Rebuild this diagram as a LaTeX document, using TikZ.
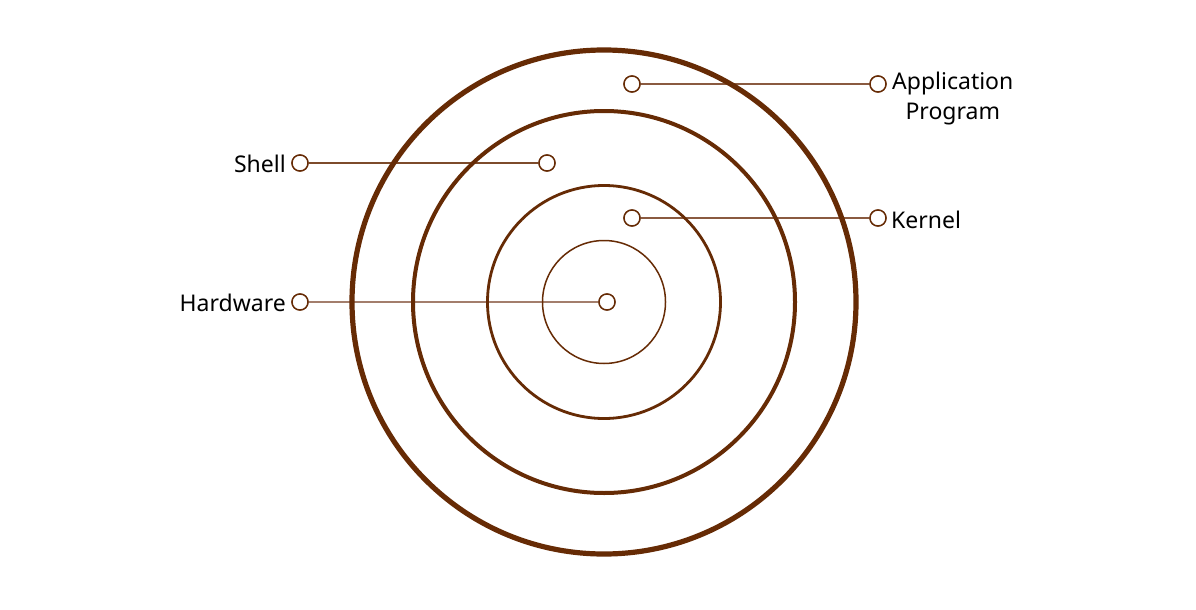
\documentclass[tikz,border=0pt]{standalone}
\usepackage{fontspec}
\setmainfont{Noto Sans}
\definecolor{ring}{HTML}{662B05}
\definecolor{leader}{HTML}{8A5A40}
\definecolor{leaderlight}{HTML}{A37E6C}
\begin{document}
\begin{tikzpicture}[x=1pt,y=-1pt,
  ring/.style={draw=ring},
  dot/.style={circle,draw=ring,line width=1.4pt,fill=white,minimum size=16pt,inner sep=0pt},
  lead/.style={draw=leader,line width=1.3pt},
  lbl/.style={font=\fontsize{23}{30}\selectfont,text=black,inner sep=0pt}]
\useasboundingbox[fill=white] (0,0) rectangle (1196,610);
% leaders (under the rings)
\node[dot] (a1) at (632,84) {};
\node[dot] (a2) at (878,84) {};
\node[dot] (s1) at (300,163) {};
\node[dot] (s2) at (547,163) {};
\node[dot] (k1) at (632,218) {};
\node[dot] (k2) at (878,218) {};
\node[dot] (h1) at (300,302) {};
\node[dot] (h2) at (607,302) {};
\draw[lead] (a1) -- (a2);
\draw[lead,draw=ring!85!white] (s1) -- (s2);
\draw[lead] (k1) -- (k2);
\draw[lead,draw=leaderlight] (h1) -- (h2);
% rings
\draw[ring,line width=5.2pt] (604,302) circle (252);
\draw[ring,line width=4pt] (604,302) circle (191);
\draw[ring,line width=2.8pt] (604,302) circle (116.5);
\draw[ring,line width=1.5pt] (604,302) circle (61.5);
% redraw dots on top
\foreach \n in {a1,a2,s1,s2,k1,k2,h1,h2} \node[dot] at (\n) {};
% labels
\node[lbl,align=center,anchor=west] (ta) at (892,99) {Application\\Program};
\node[lbl,anchor=east] (ts) at (286,164) {Shell};
\node[lbl,anchor=west] (tk) at (891,220) {Kernel};
\node[lbl,anchor=east] (th) at (286,303) {Hardware};
\end{tikzpicture}
\end{document}
